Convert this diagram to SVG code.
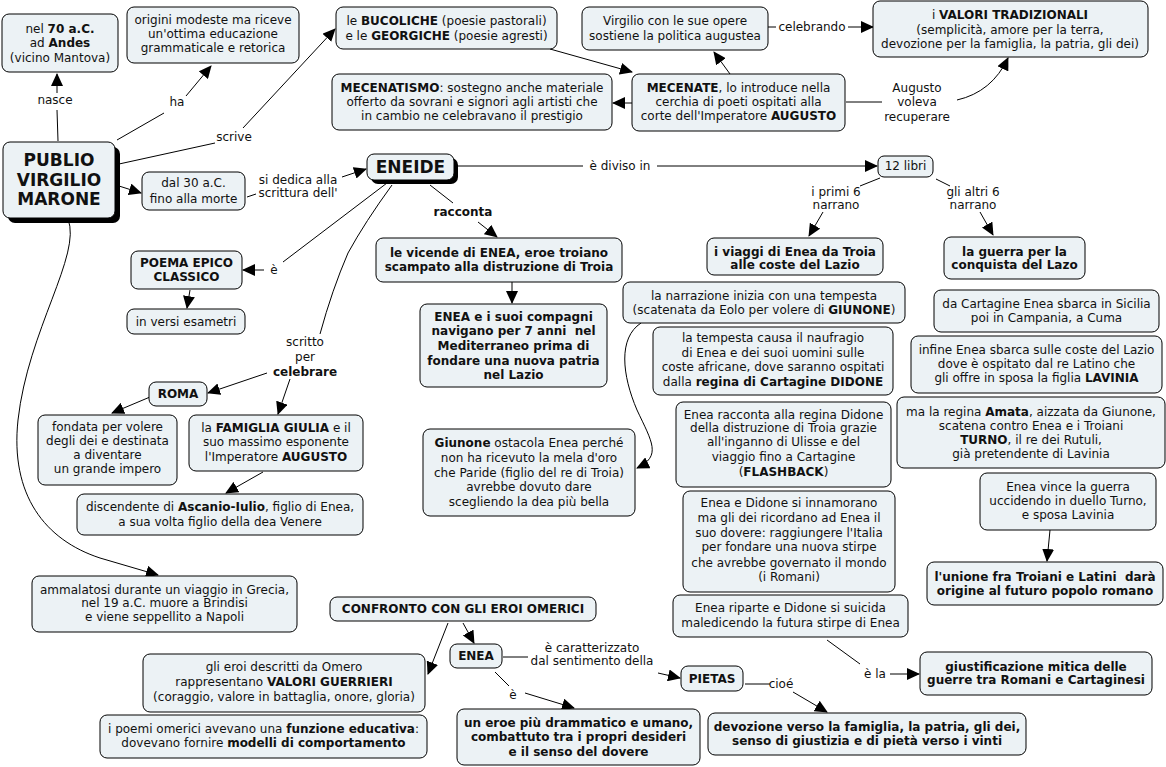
<svg xmlns="http://www.w3.org/2000/svg" width="1166" height="767" viewBox="0 0 1166 767">
<defs>
<marker id="ar" markerUnits="userSpaceOnUse" markerWidth="14" markerHeight="12" refX="12" refY="6" orient="auto"><path d="M0,0 L13,6 L0,12 Z" fill="#000"/></marker>
<style>
.n{fill:#ECF2F5;stroke:#000;stroke-width:1}
.sh{fill:#000}
text{font-family:"DejaVu Sans","Verdana",sans-serif;font-size:12px;fill:#111;text-anchor:middle}
.b{font-weight:bold}
.big{font-size:17px;font-weight:bold}
.bg{font-size:17px;font-weight:bold}
.c path,.c line{fill:none;stroke:#000;stroke-width:1}
.a{marker-end:url(#ar)}
</style>
</defs>
<rect width="1166" height="767" fill="#fff"/>
<g class="c" id="connectors">
<line x1="58" y1="141" x2="57" y2="110"/><line class="a" x1="57" y1="93" x2="57" y2="74"/>
<line x1="117" y1="140" x2="164" y2="113"/><line class="a" x1="186" y1="96" x2="211" y2="66"/>
<line x1="119" y1="164" x2="215" y2="143"/><line class="a" x1="243" y1="128" x2="335" y2="29"/>
<line class="a" x1="119" y1="186" x2="141" y2="193"/>
<line x1="247" y1="197" x2="256" y2="194"/><line class="a" x1="342" y1="177" x2="366" y2="169"/>
<line x1="458" y1="166" x2="583" y2="166"/><line class="a" x1="657" y1="166" x2="877" y2="166"/>
<line x1="880" y1="178" x2="860" y2="186"/><line class="a" x1="823" y1="212" x2="809" y2="236"/>
<line x1="936" y1="179" x2="950" y2="186"/><line class="a" x1="980" y1="212" x2="993" y2="235"/>
<line class="a" x1="550" y1="49" x2="632" y2="72"/>
<line class="a" x1="632" y1="103" x2="613" y2="103"/>
<line class="a" x1="730" y1="74" x2="714" y2="52"/>
<line x1="768" y1="27" x2="776" y2="27"/><line class="a" x1="848" y1="27" x2="873" y2="27"/>
<line x1="846" y1="102" x2="882" y2="102"/><path class="a" d="M957,100 Q992,92 1008,58"/>
<line x1="387" y1="183" x2="283" y2="262"/><line class="a" x1="264" y1="270" x2="243" y2="270"/>
<line class="a" x1="190" y1="290" x2="187" y2="308"/>
<path d="M392,185 Q365,222 348,253 Q332,290 320,334"/>
<line class="a" x1="267" y1="373" x2="208" y2="393"/>
<line class="a" x1="290" y1="379" x2="278" y2="414"/>
<line class="a" x1="150" y1="397" x2="112" y2="413"/>
<line class="a" x1="263" y1="472" x2="226" y2="493"/>
<path class="a" d="M68,219 C82,255 28,330 18,420 C10,495 45,540 100,558 L158,575"/>
<line x1="430" y1="185" x2="453" y2="203"/><line class="a" x1="478" y1="222" x2="497" y2="237"/>
<line class="a" x1="512" y1="282" x2="512" y2="303"/>
<path class="a" d="M641,323 C618,338 622,375 637,410 C652,442 662,456 637,468"/>
<line class="a" x1="1050" y1="530" x2="1047" y2="561"/>
<line x1="827" y1="640" x2="860" y2="664"/><line class="a" x1="890" y1="674" x2="919" y2="674"/>
<line class="a" x1="448" y1="623" x2="428" y2="674"/>
<line class="a" x1="463" y1="623" x2="474" y2="643"/>
<line x1="503" y1="657" x2="528" y2="657"/><line class="a" x1="658" y1="673" x2="680" y2="678"/>
<line x1="495" y1="672" x2="509" y2="686"/><line class="a" x1="525" y1="693" x2="574" y2="708"/>
<line x1="745" y1="684" x2="770" y2="684"/><line class="a" x1="793" y1="692" x2="827" y2="712"/>
</g>
<g id="labels">
<text x="55" y="104">nasce</text>
<text x="177" y="106">ha</text>
<text x="234" y="141">scrive</text>
<text x="298" y="184">si dedica alla</text><text x="298" y="197">scrittura dell'</text>
<text x="620" y="170">è diviso in</text>
<text x="836" y="196">i primi 6</text><text x="836" y="209">narrano</text>
<text x="973" y="196">gli altri 6</text><text x="973" y="209">narrano</text>
<text x="812" y="31">celebrando</text>
<text x="917" y="92">Augusto</text><text x="917" y="106">voleva</text><text x="917" y="121">recuperare</text>
<text x="274" y="274">è</text>
<text x="305" y="346">scritto</text><text x="305" y="361">per</text><text x="305" y="376" class="b">celebrare</text>
<text x="463" y="216" class="b">racconta</text>
<text x="875" y="678">è la</text>
<text x="592" y="652">è caratterizzato</text><text x="592" y="665">dal sentimento della</text>
<text x="781" y="688">cioé</text>
<text x="513" y="699">è</text>
</g>
<g id="n-nascita"><rect class="n" x="2" y="14" width="116" height="58" rx="7"/>
<text x="60" y="33">nel <tspan class="b">70 a.C.</tspan></text><text x="60" y="47">ad <tspan class="b">Andes</tspan></text><text x="60" y="62">(vicino Mantova)</text></g>
<g id="n-origini"><rect class="n" x="127" y="7" width="172" height="56" rx="7"/>
<text x="213" y="24">origini modeste ma riceve</text><text x="213" y="38">un'ottima educazione</text><text x="213" y="52">grammaticale e retorica</text></g>
<g id="n-bucoliche"><rect class="n" x="336" y="7" width="221" height="42" rx="7"/>
<text x="446.5" y="25">le <tspan class="b">BUCOLICHE</tspan> (poesie pastorali)</text><text x="446.5" y="40">e le <tspan class="b">GEORGICHE</tspan> (poesie agresti)</text></g>
<g id="n-virgilio"><rect class="n" x="582" y="7" width="186" height="43" rx="7"/>
<text x="675" y="25">Virgilio con le sue opere</text><text x="675" y="40">sostiene la politica augustea</text></g>
<g id="n-valori"><rect class="n" x="873" y="1" width="275" height="56" rx="7"/>
<text x="1010" y="19">i <tspan class="b">VALORI TRADIZIONALI</tspan></text><text x="1010" y="34">(semplicità, amore per la terra,</text><text x="1010" y="48">devozione per la famiglia, la patria, gli dei)</text></g>
<g id="n-mecenatismo"><rect class="n" x="332" y="74" width="280" height="56" rx="7"/>
<text x="472" y="92"><tspan class="b">MECENATISMO</tspan>: sostegno anche materiale</text><text x="472" y="106">offerto da sovrani e signori agli artisti che</text><text x="472" y="120">in cambio ne celebravano il prestigio</text></g>
<g id="n-mecenate"><rect class="n" x="632" y="74" width="213" height="57" rx="7"/>
<text x="738.5" y="92"><tspan class="b">MECENATE</tspan>, lo introduce nella</text><text x="738.5" y="106">cerchia di poeti ospitati alla</text><text x="738.5" y="120">corte dell'Imperatore <tspan class="b">AUGUSTO</tspan></text></g>
<g id="n-publio"><rect class="sh" x="8" y="147" width="112" height="76" rx="7"/><rect class="n" x="3" y="142" width="112" height="76" rx="7"/>
<text x="59" y="166" class="big">PUBLIO</text><text x="59" y="186" class="big">VIRGILIO</text><text x="59" y="205" class="big">MARONE</text></g>
<g id="n-dal30"><rect class="n" x="142" y="172" width="103" height="38" rx="7"/>
<text x="193.5" y="187">dal 30 a.C.</text><text x="193.5" y="203">fino alla morte</text></g>
<g id="n-eneide"><rect class="sh" x="371" y="158" width="87" height="26" rx="7"/><rect class="n" x="367" y="154" width="87" height="26" rx="7"/>
<text x="410.5" y="173" class="bg">ENEIDE</text></g>
<g id="n-12libri"><rect class="n" x="878" y="156" width="55" height="21" rx="6"/>
<text x="905.5" y="170">12 libri</text></g>
<g id="n-poema"><rect class="n" x="131" y="251" width="111" height="38" rx="7"/>
<text x="186.5" y="267" class="b">POEMA EPICO</text><text x="186.5" y="281" class="b">CLASSICO</text></g>
<g id="n-versi"><rect class="n" x="127" y="309" width="118" height="25" rx="7"/>
<text x="186" y="326">in versi esametri</text></g>
<g id="n-roma"><rect class="n" x="149" y="382" width="58" height="24" rx="7"/>
<text x="178" y="398" class="b">ROMA</text></g>
<g id="n-fondata"><rect class="n" x="38" y="415" width="139" height="70" rx="7"/>
<text x="107.5" y="431">fondata per volere</text><text x="107.5" y="445">degli dei e destinata</text><text x="107.5" y="459">a diventare</text><text x="107.5" y="473">un grande impero</text></g>
<g id="n-famiglia"><rect class="n" x="189" y="415" width="174" height="56" rx="7"/>
<text x="276" y="432">la <tspan class="b">FAMIGLIA GIULIA</tspan> e il</text><text x="276" y="446">suo massimo esponente</text><text x="276" y="461">l'Imperatore <tspan class="b">AUGUSTO</tspan></text></g>
<g id="n-discendente"><rect class="n" x="77" y="494" width="286" height="41" rx="7"/>
<text x="220" y="511">discendente di <tspan class="b">Ascanio-Iulio</tspan>, figlio di Enea,</text><text x="220" y="526">a sua volta figlio della dea Venere</text></g>
<g id="n-vicende"><rect class="n" x="376" y="238" width="246" height="44" rx="7"/>
<text x="499" y="257" class="b">le vicende di ENEA, eroe troiano</text><text x="499" y="271" class="b">scampato alla distruzione di Troia</text></g>
<g id="n-compagni"><rect class="n" x="420" y="304" width="187" height="83" rx="7"/>
<text x="513.5" y="321" class="b">ENEA e i suoi compagni</text><text x="513.5" y="335" class="b" xml:space="preserve">navigano per 7 anni  nel</text><text x="513.5" y="350" class="b">Mediterraneo prima di</text><text x="513.5" y="365" class="b">fondare una nuova patria</text><text x="513.5" y="379" class="b">nel Lazio</text></g>
<g id="n-giunone"><rect class="n" x="423" y="429" width="212" height="87" rx="7"/>
<text x="529" y="447"><tspan class="b">Giunone</tspan> ostacola Enea perché</text><text x="529" y="462">non ha ricevuto la mela d'oro</text><text x="529" y="477">che Paride (figlio del re di Troia)</text><text x="529" y="491">avrebbe dovuto dare</text><text x="529" y="506">scegliendo la dea più bella</text></g>
<g id="n-viaggi"><rect class="n" x="707" y="238" width="176" height="37" rx="7"/>
<text x="795" y="256" class="b">i viaggi di Enea da Troia</text><text x="795" y="269" class="b">alle coste del Lazio</text></g>
<g id="n-narrazione"><rect class="n" x="623" y="282" width="282" height="41" rx="7"/>
<text x="764" y="300">la narrazione inizia con una tempesta</text><text x="764" y="314">(scatenata da Eolo per volere di <tspan class="b">GIUNONE</tspan>)</text></g>
<g id="n-tempesta"><rect class="n" x="653" y="327" width="240" height="68" rx="7"/>
<text x="773" y="342">la tempesta causa il naufragio</text><text x="773" y="357">di Enea e dei suoi uomini sulle</text><text x="773" y="371">coste africane, dove saranno ospitati</text><text x="773" y="386">dalla <tspan class="b">regina di Cartagine DIDONE</tspan></text></g>
<g id="n-racconta"><rect class="n" x="676" y="402" width="215" height="85" rx="7"/>
<text x="783.5" y="419">Enea racconta alla regina Didone</text><text x="783.5" y="432">della distruzione di Troia grazie</text><text x="783.5" y="446">all'inganno di Ulisse e del</text><text x="783.5" y="461">viaggio fino a Cartagine</text><text x="783.5" y="476">(<tspan class="b">FLASHBACK</tspan>)</text></g>
<g id="n-innamorano"><rect class="n" x="683" y="491" width="212" height="101" rx="7"/>
<text x="789" y="507">Enea e Didone si innamorano</text><text x="789" y="522">ma gli dei ricordano ad Enea il</text><text x="789" y="537">suo dovere: raggiungere l'Italia</text><text x="789" y="551">per fondare una nuova stirpe</text><text x="789" y="567">che avrebbe governato il mondo</text><text x="789" y="581">(i Romani)</text></g>
<g id="n-riparte"><rect class="n" x="673" y="595" width="235" height="42" rx="7"/>
<text x="790.5" y="612">Enea riparte e Didone si suicida</text><text x="790.5" y="627">maledicendo la futura stirpe di Enea</text></g>
<g id="n-guerra"><rect class="n" x="944" y="237" width="141" height="42" rx="7"/>
<text x="1014.5" y="256" class="b">la guerra per la</text><text x="1014.5" y="269" class="b">conquista del Lazo</text></g>
<g id="n-cartagine"><rect class="n" x="934" y="290" width="225" height="42" rx="7"/>
<text x="1046.5" y="308">da Cartagine Enea sbarca in Sicilia</text><text x="1046.5" y="322">poi in Campania, a Cuma</text></g>
<g id="n-infine"><rect class="n" x="911" y="336" width="251" height="57" rx="7"/>
<text x="1036.5" y="354">infine Enea sbarca sulle coste del Lazio</text><text x="1036.5" y="368">dove è ospitato dal re Latino che</text><text x="1036.5" y="382">gli offre in sposa la figlia <tspan class="b">LAVINIA</tspan></text></g>
<g id="n-amata"><rect class="n" x="897" y="397" width="268" height="71" rx="7"/>
<text x="1031" y="416">ma la regina <tspan class="b">Amata</tspan>, aizzata da Giunone,</text><text x="1031" y="430">scatena contro Enea e i Troiani</text><text x="1031" y="444"><tspan class="b">TURNO</tspan>, il re dei Rutuli,</text><text x="1031" y="458">già pretendente di Lavinia</text></g>
<g id="n-vince"><rect class="n" x="980" y="473" width="176" height="57" rx="7"/>
<text x="1068" y="491">Enea vince la guerra</text><text x="1068" y="505">uccidendo in duello Turno,</text><text x="1068" y="519">e sposa Lavinia</text></g>
<g id="n-unione"><rect class="n" x="927" y="562" width="236" height="43" rx="7"/>
<text x="1045" y="581" class="b" xml:space="preserve">l'unione fra Troiani e Latini  darà</text><text x="1045" y="595" class="b">origine al futuro popolo romano</text></g>
<g id="n-giustificazione"><rect class="n" x="920" y="652" width="232" height="43" rx="7"/>
<text x="1036" y="671" class="b">giustificazione mitica delle</text><text x="1036" y="684" class="b">guerre tra Romani e Cartaginesi</text></g>
<g id="n-ammalatosi"><rect class="n" x="32" y="576" width="265" height="56" rx="7"/>
<text x="164.5" y="594">ammalatosi durante un viaggio in Grecia,</text><text x="164.5" y="607">nel 19 a.C. muore a Brindisi</text><text x="164.5" y="621">e viene seppellito a Napoli</text></g>
<g id="n-confronto"><rect class="n" x="330" y="597" width="266" height="24" rx="7"/>
<text x="463" y="613" class="b">CONFRONTO CON GLI EROI OMERICI</text></g>
<g id="n-enea"><rect class="n" x="450" y="644" width="52" height="24" rx="7"/>
<text x="476" y="660" class="b">ENEA</text></g>
<g id="n-pietas"><rect class="n" x="681" y="666" width="62" height="25" rx="7"/>
<text x="712" y="683" class="b">PIETAS</text></g>
<g id="n-eroi"><rect class="n" x="143" y="654" width="282" height="58" rx="7"/>
<text x="284" y="671">gli eroi descritti da Omero</text><text x="284" y="686">rappresentano <tspan class="b">VALORI GUERRIERI</tspan></text><text x="284" y="701">(coraggio, valore in battaglia, onore, gloria)</text></g>
<g id="n-poemi"><rect class="n" x="100" y="715" width="327" height="43" rx="7"/>
<text x="263.5" y="733">i poemi omerici avevano una <tspan class="b">funzione educativa</tspan>:</text><text x="263.5" y="747">dovevano fornire <tspan class="b">modelli di comportamento</tspan></text></g>
<g id="n-uneroe"><rect class="n" x="457" y="709" width="243" height="56" rx="7"/>
<text x="578.5" y="727" class="b">un eroe più drammatico e umano,</text><text x="578.5" y="741" class="b">combattuto tra i propri desideri</text><text x="578.5" y="756" class="b">e il senso del dovere</text></g>
<g id="n-devozione"><rect class="n" x="708" y="713" width="318" height="42" rx="7"/>
<text x="867" y="731" class="b">devozione verso la famiglia, la patria, gli dei,</text><text x="867" y="745" class="b">senso di giustizia e di pietà verso i vinti</text></g>
</svg>
